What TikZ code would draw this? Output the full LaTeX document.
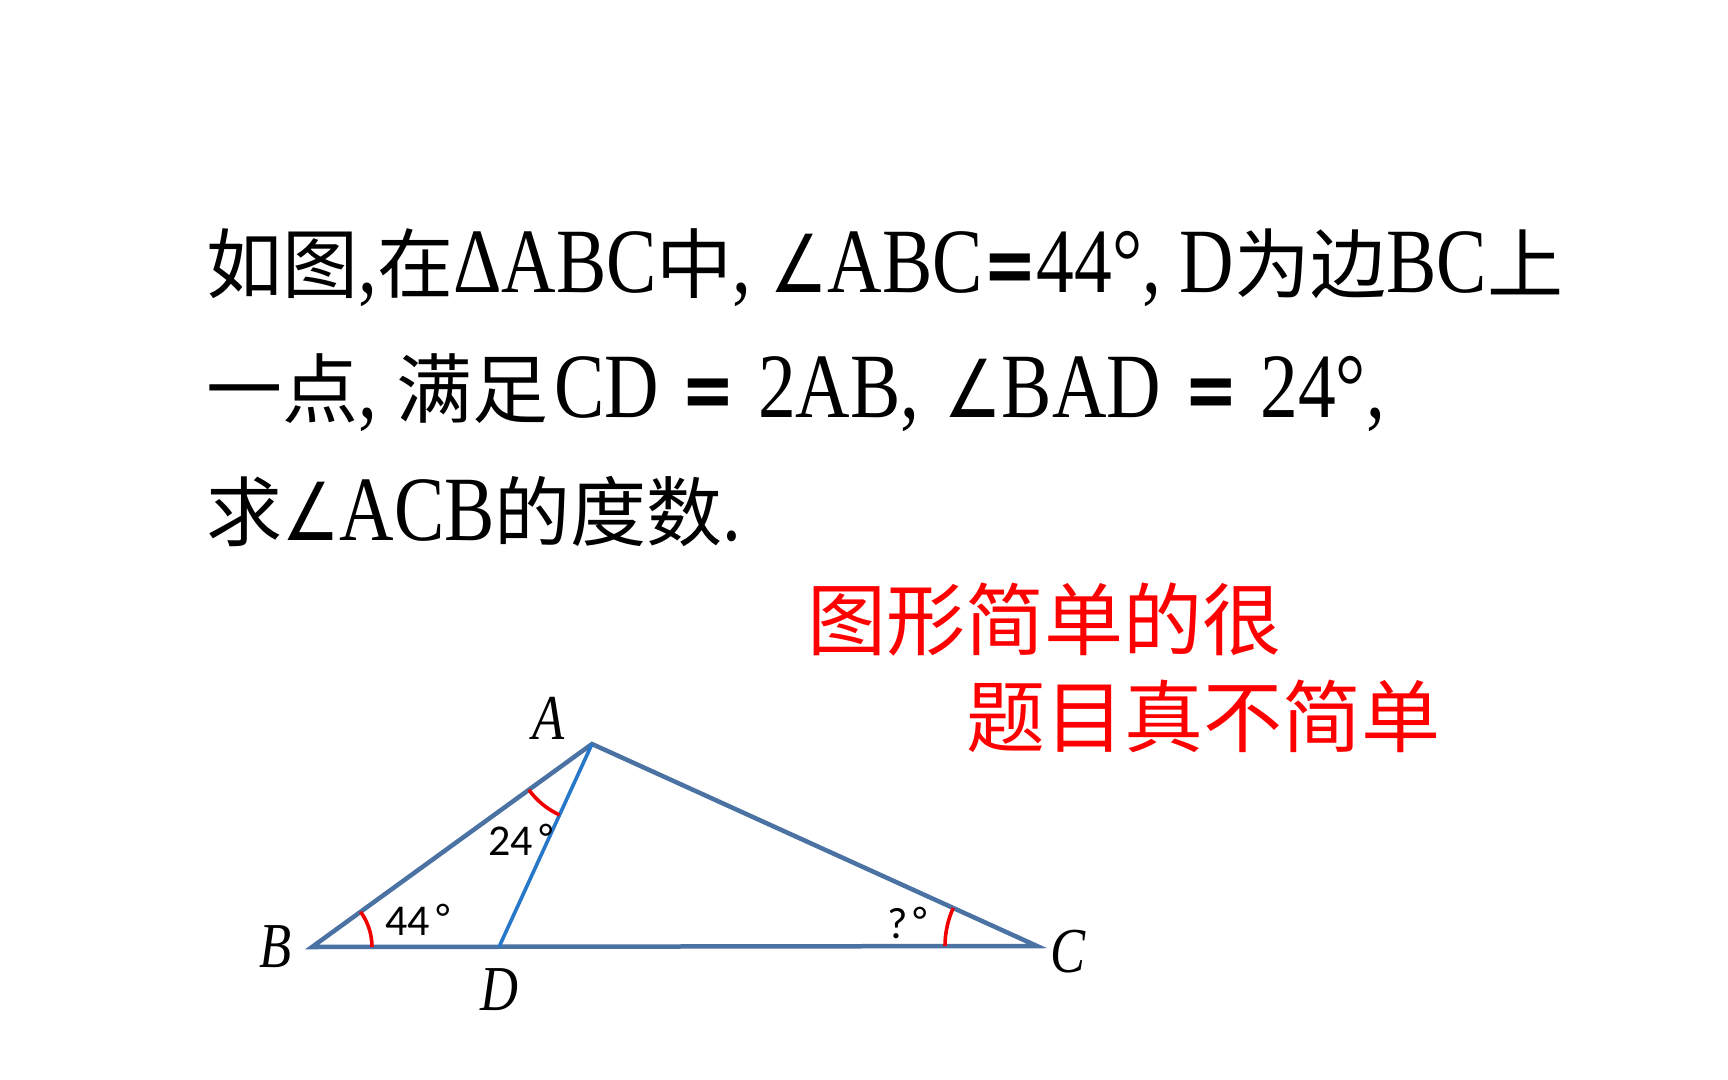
\documentclass[tikz,border=0pt]{standalone}
\usepackage{fontspec}
\usetikzlibrary{calc}
\setmainfont{Liberation Serif}
\newfontfamily\cjk{Noto Sans CJK SC}
\newfontfamily\lat[FakeStretch=0.82]{Liberation Serif}
\newfontfamily\dvs[FakeStretch=0.8]{DejaVu Sans}
\newfontfamily\calib{Carlito}
\newcommand\zh[1]{{\fontsize{38}{44}\cjk #1}}
\newcommand\en[1]{{\fontsize{46}{50}\lat #1}}
\newcommand\ang{{\fontsize{40}{44}\dvs ∠}}
\newcommand\eq{{\fontsize{40}{44}\dvs\bfseries =}}
\newcommand\dg{\kern3pt\raisebox{2pt}{\fontsize{20}{20}\selectfont °}}
\definecolor{triblue}{HTML}{4A72A2}
\definecolor{adblue}{HTML}{2778C8}
\definecolor{arcred}{HTML}{F00000}
\tikzset{
  tri/.style={draw=triblue, line width=2.25pt, line join=miter},
  adline/.style={draw=adblue, line width=1.8pt},
  redarc/.style={draw=arcred, line width=1.8pt},
  textline/.style={anchor=base west, inner sep=0pt},
  redtxt/.style={inner sep=0pt, text=red, font=\fontsize{39.5}{44}\cjk},
  vlabel/.style={inner sep=0pt, font=\fontsize{32}{36}\lat\itshape},
  anglabel/.style={anchor=base west, inner sep=0pt, font=\fontsize{22}{24}\calib}
}
\begin{document}
\begin{tikzpicture}[x=0.5pt, y=-0.5pt]
\useasboundingbox (0,0) rectangle (1728,1080);
% question text
\node[textline] (l1) at (206,293) {\zh{如图}\en{,}\zh{在}\en{ΔABC}\zh{中}\en{, }\ang\en{ABC}\eq\en{44°, D}\zh{为边}\en{BC}\zh{上}};
\node[textline] (l2) at (206,417) {\zh{一点}\en{, }\zh{满足}\kern3pt\en{CD}\kern2pt\en{ }\eq\en{ }\kern2pt\en{2AB, }\kern3pt\ang\en{BAD}\kern2pt\en{ }\eq\en{ }\kern2pt\en{24°,}};
\node[textline] (l3) at (206,540) {\zh{求}\ang\en{ACB}\zh{的度数}\en{.}};
% red comment
\node[redtxt] (r1) at (1044,620) {图形简单的很};
\node[redtxt] (r2) at (1203,716) {题目真不简单};
% triangle
\coordinate (A) at (592,744);
\coordinate (B) at (312,947);
\coordinate (C) at (1037,946);
\coordinate (D) at (499,947);
\draw[tri] (B) -- (A) -- (C) -- cycle;
\draw[adline] (A) -- (D);
% angle marks
\draw[redarc] ($(B)+(0:60)$) arc[start angle=0, end angle=-36, radius=60];
\draw[redarc] ($(A)+(144.1:78)$) arc[start angle=144.1, end angle=114.6, radius=78];
\draw[redarc] ($(C)+(180:92)$) arc[start angle=180, end angle=204.4, radius=92];
% vertex labels
\node[vlabel] (lA) at (549,718) {A};
\node[vlabel] (lB) at (276,947) {B};
\node[vlabel] (lC) at (1068,952) {C};
\node[vlabel] (lD) at (499,990) {D};
% angle labels
\node[anglabel] (a44) at (385,935) {44\dg};
\node[anglabel] (a24) at (488,855) {24\dg};
\node[anglabel] (aq) at (887,938) {?\dg};
\end{tikzpicture}
\end{document}
